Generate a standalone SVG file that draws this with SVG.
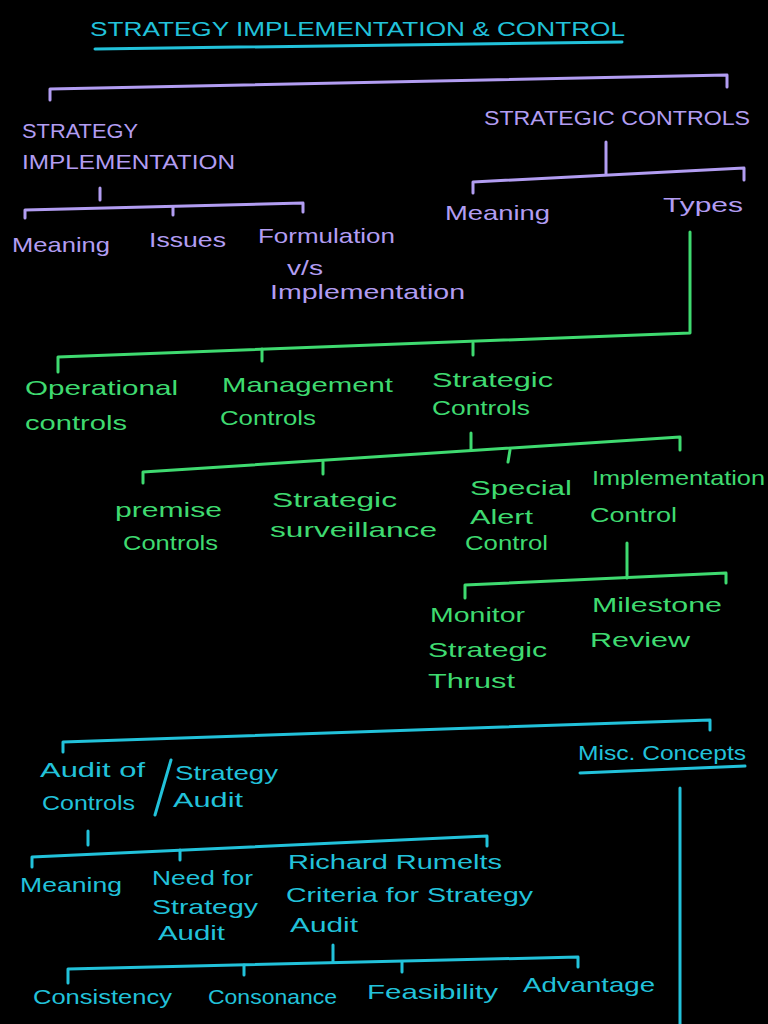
<svg xmlns="http://www.w3.org/2000/svg" width="768" height="1024" viewBox="0 0 768 1024">
<style>
text{font-family:"Liberation Sans","DejaVu Sans",sans-serif;font-size:21px;}
.p{fill:#b29df2}.g{fill:#3fda70}.c{fill:#22c2da}
.lp{stroke:#b29df2}.lg{stroke:#3fda70}.lc{stroke:#22c2da}
line,polyline{stroke-width:3;fill:none;stroke-linecap:round;stroke-linejoin:round}
</style>
<rect width="768" height="1024" fill="#000"/>
<g id="title"><text class="c" x="90" y="36" textLength="535" lengthAdjust="spacingAndGlyphs">STRATEGY IMPLEMENTATION &amp; CONTROL</text>
<line class="lc" x1="95" y1="49" x2="622" y2="42"/></g>
<g id="connectors">
<polyline class="lp" points="50,100 50,89 727,75 727,87"/>
<line class="lp" x1="100" y1="188" x2="100" y2="200"/>
<polyline class="lp" points="25,218 25,210 303,203 303,212"/>
<line class="lp" x1="173" y1="207" x2="173" y2="215"/>
<line class="lp" x1="606" y1="142" x2="606" y2="174"/>
<polyline class="lp" points="473,193 473,182 744,168 744,180"/>
<polyline class="lg" points="690,232 690,333 58,357 58,372"/>
<line class="lg" x1="262" y1="349" x2="262" y2="361"/>
<line class="lg" x1="473" y1="343" x2="473" y2="355"/>
<line class="lg" x1="471" y1="433" x2="471" y2="450"/>
<polyline class="lg" points="143,483 143,472 680,437 680,450"/>
<line class="lg" x1="323" y1="462" x2="323" y2="474"/>
<line class="lg" x1="510" y1="450" x2="508" y2="462"/>
<line class="lg" x1="627" y1="543" x2="627" y2="578"/>
<polyline class="lg" points="465,598 465,585 726,573 726,583"/>
<polyline class="lc" points="63,752 63,742 710,720 710,730"/>
<line class="lc" x1="680" y1="788" x2="680" y2="1024"/>
<line class="lc" x1="88" y1="831" x2="88" y2="845"/>
<polyline class="lc" points="32,867 32,857 487,836 487,846"/>
<line class="lc" x1="180" y1="850" x2="180" y2="860"/>
<line class="lc" x1="333" y1="945" x2="333" y2="962"/>
<polyline class="lc" points="68,983 68,969 578,957 578,967"/>
<line class="lc" x1="244" y1="965" x2="244" y2="975"/>
<line class="lc" x1="402" y1="962" x2="402" y2="972"/>
</g>
<g id="strategy-implementation"><text class="p" x="22" y="138" textLength="116" lengthAdjust="spacingAndGlyphs">STRATEGY</text><text class="p" x="22" y="169" textLength="213" lengthAdjust="spacingAndGlyphs">IMPLEMENTATION</text></g>
<g id="si-meaning"><text class="p" x="12" y="252" textLength="98" lengthAdjust="spacingAndGlyphs">Meaning</text></g>
<g id="si-issues"><text class="p" x="149" y="247" textLength="77" lengthAdjust="spacingAndGlyphs">Issues</text></g>
<g id="si-formulation"><text class="p" x="258" y="243" textLength="137" lengthAdjust="spacingAndGlyphs">Formulation</text><text class="p" x="287" y="275" textLength="36" lengthAdjust="spacingAndGlyphs">v/s</text><text class="p" x="270" y="299" textLength="195" lengthAdjust="spacingAndGlyphs">Implementation</text></g>
<g id="strategic-controls"><text class="p" x="484" y="125" textLength="266" lengthAdjust="spacingAndGlyphs">STRATEGIC CONTROLS</text></g>
<g id="sc-meaning"><text class="p" x="445" y="220" textLength="105" lengthAdjust="spacingAndGlyphs">Meaning</text></g>
<g id="sc-types"><text class="p" x="663" y="212" textLength="80" lengthAdjust="spacingAndGlyphs">Types</text></g>
<g id="operational"><text class="g" x="25" y="395" textLength="153" lengthAdjust="spacingAndGlyphs">Operational</text><text class="g" x="25" y="430" textLength="102" lengthAdjust="spacingAndGlyphs">controls</text></g>
<g id="management"><text class="g" x="222" y="392" textLength="171" lengthAdjust="spacingAndGlyphs">Management</text><text class="g" x="220" y="425" textLength="96" lengthAdjust="spacingAndGlyphs">Controls</text></g>
<g id="strategic"><text class="g" x="432" y="387" textLength="121" lengthAdjust="spacingAndGlyphs">Strategic</text><text class="g" x="432" y="415" textLength="98" lengthAdjust="spacingAndGlyphs">Controls</text></g>
<g id="premise"><text class="g" x="115" y="517" textLength="107" lengthAdjust="spacingAndGlyphs">premise</text><text class="g" x="123" y="550" textLength="95" lengthAdjust="spacingAndGlyphs">Controls</text></g>
<g id="surveillance"><text class="g" x="272" y="507" textLength="125" lengthAdjust="spacingAndGlyphs">Strategic</text><text class="g" x="270" y="537" textLength="167" lengthAdjust="spacingAndGlyphs">surveillance</text></g>
<g id="special-alert"><text class="g" x="470" y="495" textLength="102" lengthAdjust="spacingAndGlyphs">Special</text><text class="g" x="470" y="524" textLength="63" lengthAdjust="spacingAndGlyphs">Alert</text><text class="g" x="465" y="550" textLength="83" lengthAdjust="spacingAndGlyphs">Control</text></g>
<g id="implementation-control"><text class="g" x="592" y="485" textLength="173" lengthAdjust="spacingAndGlyphs">Implementation</text><text class="g" x="590" y="522" textLength="87" lengthAdjust="spacingAndGlyphs">Control</text></g>
<g id="monitor"><text class="g" x="430" y="622" textLength="95" lengthAdjust="spacingAndGlyphs">Monitor</text><text class="g" x="428" y="657" textLength="119" lengthAdjust="spacingAndGlyphs">Strategic</text><text class="g" x="428" y="688" textLength="87" lengthAdjust="spacingAndGlyphs">Thrust</text></g>
<g id="milestone"><text class="g" x="592" y="612" textLength="130" lengthAdjust="spacingAndGlyphs">Milestone</text><text class="g" x="590" y="647" textLength="100" lengthAdjust="spacingAndGlyphs">Review</text></g>
<g id="audit"><text class="c" x="40" y="777" textLength="105" lengthAdjust="spacingAndGlyphs">Audit of</text><text class="c" x="42" y="810" textLength="93" lengthAdjust="spacingAndGlyphs">Controls</text><line class="lc" x1="171" y1="760" x2="155" y2="815"/><text class="c" x="175" y="780" textLength="103" lengthAdjust="spacingAndGlyphs">Strategy</text><text class="c" x="173" y="807" textLength="70" lengthAdjust="spacingAndGlyphs">Audit</text></g>
<g id="misc"><text class="c" x="578" y="760" textLength="168" lengthAdjust="spacingAndGlyphs">Misc. Concepts</text><line class="lc" x1="580" y1="773" x2="745" y2="766"/></g>
<g id="a-meaning"><text class="c" x="20" y="892" textLength="102" lengthAdjust="spacingAndGlyphs">Meaning</text></g>
<g id="need"><text class="c" x="152" y="885" textLength="101" lengthAdjust="spacingAndGlyphs">Need for</text><text class="c" x="152" y="914" textLength="106" lengthAdjust="spacingAndGlyphs">Strategy</text><text class="c" x="158" y="940" textLength="67" lengthAdjust="spacingAndGlyphs">Audit</text></g>
<g id="rumelt"><text class="c" x="288" y="869" textLength="214" lengthAdjust="spacingAndGlyphs">Richard Rumelts</text><text class="c" x="286" y="902" textLength="247" lengthAdjust="spacingAndGlyphs">Criteria for Strategy</text><text class="c" x="290" y="932" textLength="68" lengthAdjust="spacingAndGlyphs">Audit</text></g>
<g id="consistency"><text class="c" x="33" y="1004" textLength="139" lengthAdjust="spacingAndGlyphs">Consistency</text></g>
<g id="consonance"><text class="c" x="208" y="1004" textLength="129" lengthAdjust="spacingAndGlyphs">Consonance</text></g>
<g id="feasibility"><text class="c" x="367" y="999" textLength="131" lengthAdjust="spacingAndGlyphs">Feasibility</text></g>
<g id="advantage"><text class="c" x="523" y="992" textLength="132" lengthAdjust="spacingAndGlyphs">Advantage</text></g>
</svg>
